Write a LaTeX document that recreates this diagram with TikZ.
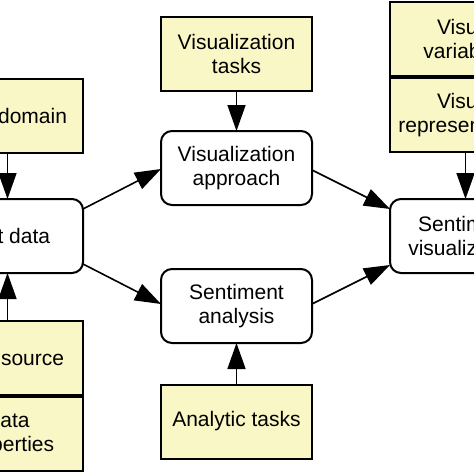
\documentclass[tikz,border=0pt]{standalone}
\usepackage{fontspec}
\setmainfont{Liberation Sans}
\usetikzlibrary{arrows.meta}
\definecolor{paleyellow}{RGB}{250,247,198}
\tikzset{
  basebox/.style={draw=black, line width=2pt, minimum width=151pt, minimum height=74pt,
    inner sep=2pt, outer sep=0pt, align=center, font=\fontsize{21}{24}\selectfont},
  inbox/.style={basebox, fill=paleyellow},
  procbox/.style={basebox, fill=white, rounded corners=11pt},
  conn/.style={line width=1.6pt, -{Triangle[length=26pt,width=18pt]}}
}
\begin{document}
\begin{tikzpicture}[x=1pt,y=-1pt]
\useasboundingbox (0,0) rectangle (474,474);
\fill[white] (0,0) rectangle (474,474);
\begin{scope}
\clip (0,0) rectangle (474,474);
% left column
\node[inbox] (domain) at (7.5,115.5) {Data domain};
\node[procbox] (textdata) at (7.5,236) {Text data};
\node[inbox] (source) at (7.5,358) {Data source};
\node[inbox] (props) at (7.5,434) {Data\\properties};
% middle column
\node[inbox] (vistasks) at (236.5,54) {Visualization\\tasks};
\node[procbox] (visappr) at (236.5,168) {Visualization\\approach};
\node[procbox] (sentan) at (236.5,306) {Sentiment\\analysis};
\node[inbox] (antasks) at (236.5,421.5) {Analytic tasks};
% right column
\node[inbox] (visvars) at (465.5,39) {Visual\\variables};
\node[inbox] (visrep) at (465.5,115) {Visual\\representation};
\node[procbox] (sentvis) at (465.5,236) {Sentiment\\visualization};
% connectors
\draw[conn] (domain.south) -- (textdata.north);
\draw[conn] (source.north) -- (textdata.south);
\draw[conn] (vistasks.south) -- (visappr.north);
\draw[conn] (antasks.north) -- (sentan.south);
\draw[conn] (visrep.south) -- (sentvis.north);
\draw[conn] ([yshift=27pt]textdata.east) -- ([yshift=-1pt]visappr.west);
\draw[conn] ([yshift=-28pt]textdata.east) -- ([yshift=2pt]sentan.west);
\draw[conn] ([yshift=-2pt]visappr.east) -- ([yshift=27pt]sentvis.west);
\draw[conn] ([yshift=2pt]sentan.east) -- ([yshift=-29pt]sentvis.west);
\end{scope}
\end{tikzpicture}
\end{document}
